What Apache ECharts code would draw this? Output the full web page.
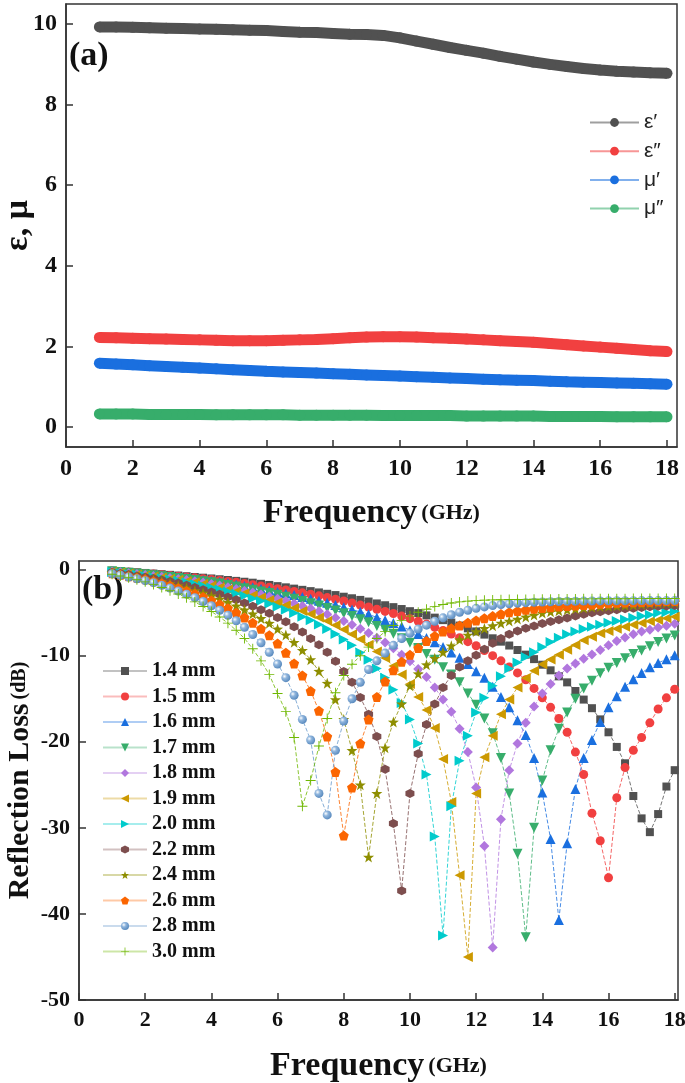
<!DOCTYPE html>
<html>
<head>
<meta charset="utf-8">
<script src="https://cdn.jsdelivr.net/npm/echarts@6/dist/echarts.min.js"></script>
<style>
  html, body { margin: 0; padding: 0; background: #fff; }
  #chartDiv { width: 685px; height: 1083px; }
</style>
</head>
<body>
<div id="chartDiv"></div>
<script>
var myChart = echarts.init(document.getElementById('chartDiv'));

// (a) permittivity / permeability, 1-18 GHz every 0.5 GHz
var freqA = [1, 1.5, 2, 2.5, 3, 3.5, 4, 4.5, 5, 5.5, 6, 6.5, 7, 7.5, 8, 8.5, 9, 9.5,
    10, 10.5, 11, 11.5, 12, 12.5, 13, 13.5, 14, 14.5, 15, 15.5, 16, 16.5, 17, 17.5, 18];
var epsReal = [9.93, 9.93, 9.92, 9.91, 9.9, 9.89, 9.88, 9.87, 9.86, 9.85, 9.84, 9.82, 9.8, 9.79, 9.77, 9.75, 9.74, 9.72,
    9.66, 9.58, 9.5, 9.42, 9.35, 9.28, 9.2, 9.13, 9.06, 9.0, 8.95, 8.9, 8.86, 8.83, 8.81, 8.79, 8.78];
var epsImag = [2.22, 2.21, 2.2, 2.19, 2.18, 2.17, 2.16, 2.15, 2.14, 2.14, 2.14, 2.15, 2.16, 2.17, 2.19, 2.21, 2.23, 2.24,
    2.24, 2.23, 2.21, 2.2, 2.18, 2.16, 2.14, 2.12, 2.1, 2.07, 2.04, 2.01, 1.98, 1.95, 1.92, 1.89, 1.87];
var muReal = [1.58, 1.56, 1.54, 1.52, 1.5, 1.48, 1.46, 1.44, 1.42, 1.4, 1.38, 1.365, 1.35, 1.335, 1.32, 1.305, 1.29, 1.275,
    1.26, 1.245, 1.23, 1.215, 1.2, 1.185, 1.17, 1.16, 1.15, 1.135, 1.12, 1.11, 1.1, 1.09, 1.08, 1.07, 1.06];
var muImag = [0.32, 0.32, 0.32, 0.31, 0.31, 0.31, 0.31, 0.3, 0.3, 0.3, 0.3, 0.3, 0.29, 0.29, 0.29, 0.29, 0.29, 0.28,
    0.28, 0.28, 0.28, 0.28, 0.27, 0.27, 0.27, 0.27, 0.27, 0.26, 0.26, 0.26, 0.26, 0.25, 0.25, 0.25, 0.25];
var namesA = ['ε′', 'ε″', 'μ′', 'μ″'];
var colorsA = ['#515151', '#F14040', '#1A6FDF', '#37AD6B'];

// (b) reflection loss, 1-18 GHz every 0.25 GHz
var freqB = [1, 1.25, 1.5, 1.75, 2, 2.25, 2.5, 2.75, 3, 3.25, 3.5, 3.75, 4, 4.25, 4.5, 4.75,
    5, 5.25, 5.5, 5.75, 6, 6.25, 6.5, 6.75, 7, 7.25, 7.5, 7.75, 8, 8.25, 8.5, 8.75,
    9, 9.25, 9.5, 9.75, 10, 10.25, 10.5, 10.75, 11, 11.25, 11.5, 11.75, 12, 12.25, 12.5, 12.75,
    13, 13.25, 13.5, 13.75, 14, 14.25, 14.5, 14.75, 15, 15.25, 15.5, 15.75, 16, 16.25, 16.5, 16.75,
    17, 17.25, 17.5, 17.75, 18];
var rl14 = [-0.14, -0.2, -0.26, -0.31, -0.39, -0.46, -0.53, -0.61, -0.69, -0.77, -0.86, -0.94,
    -1.03, -1.12, -1.21, -1.31, -1.41, -1.52, -1.65, -1.78, -1.92, -2.06, -2.21, -2.35,
    -2.5, -2.65, -2.81, -2.96, -3.15, -3.33, -3.52, -3.71, -3.93, -4.14, -4.36, -4.58,
    -4.83, -5.05, -5.32, -5.58, -5.87, -6.15, -6.5, -6.82, -7.18, -7.55, -7.98, -8.37,
    -8.82, -9.34, -9.88, -10.4, -11.05, -11.7, -12.4, -13.1, -14.1, -15.1, -16.1, -17.4,
    -18.9, -20.6, -22.5, -26.3, -28.9, -30.5, -28.4, -25.2, -23.3];
var rl15 = [-0.16, -0.22, -0.29, -0.36, -0.44, -0.52, -0.6, -0.69, -0.78, -0.87, -0.96, -1.06,
    -1.15, -1.26, -1.37, -1.47, -1.61, -1.75, -1.9, -2.06, -2.21, -2.37, -2.54, -2.7,
    -2.86, -3.05, -3.25, -3.44, -3.65, -3.88, -4.12, -4.34, -4.6, -4.86, -5.1, -5.4,
    -5.7, -6.0, -6.33, -6.71, -7.08, -7.49, -7.92, -8.37, -8.85, -9.41, -10.0, -10.6,
    -11.3, -12.0, -12.8, -13.8, -14.9, -16.0, -17.3, -18.9, -21.2, -23.8, -28.3, -31.5,
    -35.8, -26.5, -23.0, -21.0, -19.5, -17.8, -16.2, -14.9, -13.9];
var rl16 = [-0.18, -0.25, -0.32, -0.41, -0.5, -0.58, -0.68, -0.78, -0.88, -0.98, -1.09, -1.2,
    -1.32, -1.43, -1.57, -1.73, -1.89, -2.06, -2.23, -2.41, -2.59, -2.77, -2.95, -3.17,
    -3.39, -3.61, -3.85, -4.1, -4.37, -4.64, -4.91, -5.2, -5.55, -5.87, -6.21, -6.61,
    -7.04, -7.47, -7.95, -8.43, -9.0, -9.63, -10.25, -10.96, -11.8, -12.57, -13.6, -14.8,
    -16.0, -17.5, -19.2, -21.9, -25.9, -31.3, -40.7, -31.8, -25.5, -21.9, -19.8, -17.7,
    -16.0, -14.7, -13.6, -12.75, -12.0, -11.35, -10.85, -10.4, -9.95];
var rl17 = [-0.2, -0.28, -0.37, -0.45, -0.55, -0.66, -0.76, -0.87, -0.98, -1.09, -1.21, -1.34,
    -1.46, -1.62, -1.8, -1.97, -2.16, -2.34, -2.54, -2.73, -2.93, -3.15, -3.39, -3.64,
    -3.9, -4.18, -4.46, -4.76, -5.07, -5.4, -5.76, -6.11, -6.55, -6.98, -7.44, -7.98,
    -8.5, -9.1, -9.8, -10.46, -11.33, -12.2, -13.1, -14.4, -15.7, -17.3, -19.0, -21.9,
    -26.0, -33.0, -42.7, -30.0, -24.5, -21.0, -18.5, -16.6, -15.0, -13.8, -12.9, -12.05,
    -11.4, -10.85, -10.3, -9.8, -9.4, -8.9, -8.4, -8.0, -7.65];
var rl18 = [-0.22, -0.31, -0.41, -0.51, -0.62, -0.73, -0.84, -0.97, -1.09, -1.21, -1.35, -1.49,
    -1.67, -1.86, -2.05, -2.25, -2.46, -2.67, -2.88, -3.12, -3.38, -3.64, -3.93, -4.22,
    -4.53, -4.85, -5.19, -5.58, -5.96, -6.4, -6.86, -7.36, -7.92, -8.48, -9.15, -9.88,
    -10.64, -11.56, -12.48, -13.7, -15.1, -16.5, -18.5, -21.2, -25.3, -32.1, -43.9, -29.0,
    -23.3, -20.2, -17.8, -15.9, -14.4, -13.3, -12.3, -11.5, -10.9, -10.35, -9.85, -9.35,
    -8.8, -8.3, -7.9, -7.5, -7.2, -6.98, -6.74, -6.52, -6.3];
var rl19 = [-0.24, -0.34, -0.45, -0.56, -0.68, -0.8, -0.93, -1.06, -1.19, -1.34, -1.48, -1.68,
    -1.88, -2.09, -2.3, -2.52, -2.74, -2.98, -3.25, -3.53, -3.83, -4.14, -4.46, -4.81,
    -5.17, -5.57, -5.98, -6.45, -6.96, -7.5, -8.1, -8.72, -9.5, -10.28, -11.2, -12.2,
    -13.3, -14.8, -16.3, -18.4, -22.0, -27.0, -35.5, -45.0, -26.0, -21.8, -19.3, -16.8,
    -15.1, -13.7, -12.6, -11.75, -11.0, -10.45, -9.9, -9.3, -8.75, -8.2, -7.8, -7.4,
    -7.13, -6.86, -6.63, -6.4, -6.2, -6.0, -5.84, -5.65, -5.47];
var rl20 = [-0.27, -0.38, -0.5, -0.61, -0.74, -0.87, -1.01, -1.15, -1.3, -1.46, -1.66, -1.87,
    -2.09, -2.32, -2.55, -2.8, -3.05, -3.35, -3.64, -3.97, -4.31, -4.67, -5.04, -5.47,
    -5.89, -6.38, -6.9, -7.49, -8.13, -8.8, -9.63, -10.46, -11.5, -12.55, -13.95, -15.5,
    -17.4, -20.2, -23.8, -31.0, -42.5, -27.5, -22.2, -19.3, -16.6, -14.9, -13.5, -12.4,
    -11.5, -10.8, -10.15, -9.6, -9.0, -8.4, -7.93, -7.5, -7.2, -6.9, -6.63, -6.4,
    -6.18, -5.98, -5.8, -5.6, -5.4, -5.24, -5.05, -4.95, -4.85];
var rl22 = [-0.32, -0.45, -0.58, -0.73, -0.88, -1.04, -1.2, -1.38, -1.57, -1.82, -2.07, -2.33,
    -2.59, -2.87, -3.18, -3.51, -3.87, -4.25, -4.66, -5.08, -5.56, -6.06, -6.65, -7.26,
    -7.99, -8.72, -9.6, -10.64, -11.85, -13.1, -14.85, -16.8, -19.4, -23.2, -29.5, -37.3,
    -26.0, -21.4, -18.0, -15.6, -13.7, -12.3, -11.3, -10.6, -9.95, -9.25, -8.55, -8.0,
    -7.5, -7.13, -6.8, -6.54, -6.27, -6.04, -5.83, -5.62, -5.4, -5.2, -5.0, -4.9,
    -4.78, -4.65, -4.55, -4.48, -4.4, -4.32, -4.27, -4.23, -4.18];
var rl24 = [-0.38, -0.52, -0.68, -0.84, -1.01, -1.18, -1.38, -1.61, -1.87, -2.13, -2.43, -2.73,
    -3.05, -3.42, -3.8, -4.22, -4.67, -5.14, -5.67, -6.23, -6.9, -7.59, -8.45, -9.38,
    -10.46, -11.8, -13.2, -15.1, -17.4, -21.0, -25.0, -33.4, -26.0, -20.7, -17.7, -15.6,
    -13.5, -12.1, -11.05, -10.3, -9.6, -8.85, -8.15, -7.6, -7.2, -6.83, -6.52, -6.22,
    -5.98, -5.75, -5.5, -5.28, -5.05, -4.9, -4.78, -4.66, -4.55, -4.46, -4.38, -4.3,
    -4.25, -4.19, -4.14, -4.1, -4.02, -3.95, -3.89, -3.85, -3.81];
var rl26 = [-0.43, -0.59, -0.76, -0.95, -1.13, -1.34, -1.58, -1.86, -2.16, -2.48, -2.81, -3.18,
    -3.58, -4.02, -4.49, -5.0, -5.56, -6.16, -6.87, -7.63, -8.57, -9.66, -10.9, -12.3,
    -14.1, -16.4, -19.4, -23.5, -30.9, -25.3, -20.2, -17.4, -14.8, -13.0, -11.7, -10.7,
    -9.9, -9.1, -8.3, -7.7, -7.2, -6.8, -6.48, -6.18, -5.9, -5.65, -5.4, -5.15,
    -4.96, -4.8, -4.67, -4.55, -4.46, -4.37, -4.29, -4.23, -4.17, -4.12, -4.05, -3.98,
    -3.9, -3.86, -3.82, -3.78, -3.75, -3.72, -3.69, -3.66, -3.64];
var rl28 = [-0.48, -0.66, -0.86, -1.06, -1.28, -1.52, -1.83, -2.15, -2.49, -2.85, -3.26, -3.71,
    -4.2, -4.72, -5.3, -5.94, -6.7, -7.54, -8.5, -9.6, -10.96, -12.55, -14.6, -17.4,
    -19.8, -26.0, -28.5, -21.0, -17.6, -15.0, -13.1, -11.6, -10.6, -9.7, -8.8, -8.0,
    -7.4, -6.9, -6.45, -6.0, -5.6, -5.25, -4.95, -4.72, -4.5, -4.33, -4.18, -4.06,
    -3.97, -3.9, -3.84, -3.8, -3.76, -3.73, -3.71, -3.69, -3.68, -3.66, -3.65, -3.64,
    -3.63, -3.62, -3.62, -3.61, -3.6, -3.6, -3.6, -3.6, -3.6];
var rl30 = [-0.54, -0.74, -0.95, -1.17, -1.42, -1.72, -2.08, -2.45, -2.83, -3.27, -3.75, -4.29,
    -4.87, -5.5, -6.22, -7.05, -8.0, -9.2, -10.6, -12.2, -14.4, -16.5, -19.5, -27.5,
    -24.5, -20.5, -17.3, -14.3, -12.3, -11.0, -10.0, -9.0, -8.0, -7.2, -6.5, -5.9,
    -5.4, -4.95, -4.6, -4.3, -4.05, -3.88, -3.75, -3.66, -3.6, -3.55, -3.52, -3.5,
    -3.48, -3.47, -3.46, -3.45, -3.44, -3.43, -3.42, -3.42, -3.41, -3.4, -3.4, -3.39,
    -3.39, -3.38, -3.38, -3.37, -3.37, -3.36, -3.36, -3.35, -3.35];

var rlSeries = [rl14, rl15, rl16, rl17, rl18, rl19, rl20, rl22, rl24, rl26, rl28, rl30];
var namesB = ['1.4 mm', '1.5 mm', '1.6 mm', '1.7 mm', '1.8 mm', '1.9 mm', '2.0 mm', '2.2 mm', '2.4 mm', '2.6 mm', '2.8 mm', '3.0 mm'];
var colorsB = ['#515151', '#F14040', '#1A6FDF', '#37AD6B', '#B177DE', '#CC9900', '#00CBCC', '#7D4E4E', '#8E8E00', '#FB6501', '#6699CC', '#6FB802'];

var hexagon = 'path://M0,-10 L8.66,-5 L8.66,5 L0,10 L-8.66,5 L-8.66,-5 Z';
var star = 'path://M0,-10 L2.35,-3.24 L9.51,-3.09 L3.8,1.24 L5.88,8.09 L0,4 L-5.88,8.09 L-3.8,1.24 L-9.51,-3.09 L-2.35,-3.24 Z';
var pentagon = 'path://M0,-10 L9.51,-3.09 L5.88,8.09 L-5.88,8.09 L-9.51,-3.09 Z';
var plus = 'path://M-0.9,-10 L0.9,-10 L0.9,-0.9 L10,-0.9 L10,0.9 L0.9,0.9 L0.9,10 L-0.9,10 L-0.9,0.9 L-10,0.9 L-10,-0.9 L-0.9,-0.9 Z';
var symbolsB = ['rect', 'circle', 'triangle', 'triangle', 'diamond', 'triangle', 'triangle', hexagon, star, pentagon, 'circle', plus];
var rotateB = [0, 0, 0, 180, 0, 90, -90, 0, 0, 0, 0, 0];
var sizeB = [8, 9, 10, 10, 10, 10, 10, 9, 11, 10, 9, 10];

var serif = 'Liberation Serif';
var frameLine = {show: true, onZero: false, lineStyle: {color: '#333', width: 1.5}};
var frameTick = {show: true, inside: true, length: 7, lineStyle: {color: '#333', width: 1.5}};
var tickFont = {fontFamily: serif, fontWeight: 'bold', color: '#111'};
var xTicks = [0, 2, 4, 6, 8, 10, 12, 14, 16, 18];
var yTicksA = [0, 2, 4, 6, 8, 10];
var yTicksB = [-50, -40, -30, -20, -10, 0];
var freqName = {
    rich: {
        a: {fontFamily: serif, fontWeight: 'bold', fontSize: 34, color: '#111'},
        b: {fontFamily: serif, fontWeight: 'bold', fontSize: 22, color: '#111', padding: [0, 0, 0, 4]}
    }
};

var series = [];
namesA.forEach(function (name, k) {
    var vals = [epsReal, epsImag, muReal, muImag][k];
    series.push({
        name: name,
        type: 'line',
        xAxisIndex: 0,
        yAxisIndex: 0,
        symbol: 'circle',
        symbolSize: 11,
        lineStyle: {width: 11, color: colorsA[k]},
        itemStyle: {color: colorsA[k]},
        data: freqA.map(function (f, i) { return [f, vals[i]]; })
    });
});
namesB.forEach(function (name, k) {
    var vals = rlSeries[k];
    var fill = colorsB[k];
    if (k === 10) {
        // 2.8 mm is drawn as shaded spheres
        fill = {type: 'radial', x: 0.35, y: 0.35, r: 0.75,
            colorStops: [{offset: 0, color: '#ffffff'}, {offset: 0.35, color: '#8fb5dd'}, {offset: 1, color: '#4f82b8'}]};
    }
    series.push({
        name: name,
        type: 'line',
        xAxisIndex: 1,
        yAxisIndex: 1,
        symbol: symbolsB[k],
        symbolRotate: rotateB[k],
        symbolSize: sizeB[k],
        lineStyle: {width: 1, type: 'dashed', color: colorsB[k], opacity: 0.8},
        itemStyle: {color: fill},
        data: freqB.map(function (f, i) { return [f, vals[i]]; })
    });
});

option = {
    backgroundColor: '#fff',
    animation: false,
    grid: [
        {left: 66, top: 4, width: 611, height: 443, show: true, borderColor: '#333', borderWidth: 1.5,
            containLabel: false, outerBoundsMode: 'none'},
        {left: 79, top: 561, width: 599, height: 439, show: true, borderColor: '#333', borderWidth: 1.5,
            containLabel: false, outerBoundsMode: 'none'}
    ],
    xAxis: [
        {
            type: 'value', gridIndex: 0, min: 0, max: 18.3,
            axisLine: frameLine, axisTick: Object.assign({customValues: xTicks}, frameTick),
            axisLabel: Object.assign({customValues: xTicks, fontSize: 24, margin: 10}, tickFont),
            splitLine: {show: false},
            name: '{a|Frequency}{b|(GHz)}', nameLocation: 'middle', nameGap: 49, nameTextStyle: freqName
        },
        {
            type: 'value', gridIndex: 1, min: 0, max: 18.1,
            axisLine: frameLine, axisTick: Object.assign({customValues: xTicks}, frameTick),
            axisLabel: Object.assign({customValues: xTicks, fontSize: 22, margin: 9}, tickFont),
            splitLine: {show: false},
            name: '{a|Frequency}{b|(GHz)}', nameLocation: 'middle', nameGap: 49, nameTextStyle: freqName
        }
    ],
    yAxis: [
        {
            type: 'value', gridIndex: 0, min: -0.5, max: 10.5,
            axisLine: frameLine, axisTick: Object.assign({customValues: yTicksA}, frameTick),
            axisLabel: Object.assign({customValues: yTicksA, fontSize: 24, margin: 9}, tickFont),
            splitLine: {show: false},
            name: 'ε, μ', nameLocation: 'middle', nameGap: 31, nameMoveOverlap: false,
            nameTextStyle: {fontFamily: serif, fontWeight: 'bold', fontSize: 34, color: '#111'}
        },
        {
            type: 'value', gridIndex: 1, min: -50, max: 1,
            axisLine: frameLine, axisTick: Object.assign({customValues: yTicksB}, frameTick),
            axisLabel: Object.assign({customValues: yTicksB, fontSize: 22, margin: 9}, tickFont),
            splitLine: {show: false},
            name: '{a|Reflection Loss}{b|(dB)}', nameLocation: 'middle', nameGap: 44, nameMoveOverlap: false,
            nameTextStyle: {
                rich: {
                    a: {fontFamily: serif, fontWeight: 'bold', fontSize: 30, color: '#111'},
                    b: {fontFamily: serif, fontWeight: 'bold', fontSize: 20, color: '#111', padding: [0, 0, 0, 4]}
                }
            }
        }
    ],
    legend: [
        {
            data: namesA, orient: 'vertical', left: 584, top: 107,
            itemWidth: 49, itemHeight: 11, itemGap: 7.7,
            lineStyle: {width: 2, opacity: 0.55},
            textStyle: {fontFamily: 'Liberation Sans', fontSize: 21, lineHeight: 21, color: '#222'}
        },
        {
            data: namesB, orient: 'vertical', left: 97, top: 656,
            itemWidth: 44, itemHeight: 10, itemGap: 5.5,
            lineStyle: {type: 'solid', width: 2, opacity: 0.35},
            textStyle: {fontFamily: serif, fontWeight: 'bold', fontSize: 20, lineHeight: 20, color: '#111'}
        }
    ],
    graphic: [
        {type: 'text', left: 69, top: 39, style: {text: '(a)', font: 'bold 34px "Liberation Serif"', fill: '#111'}},
        {type: 'text', left: 82, top: 573, style: {text: '(b)', font: 'bold 34px "Liberation Serif"', fill: '#111'}}
    ],
    series: series
};
myChart.setOption(option);
</script>
</body>
</html>
